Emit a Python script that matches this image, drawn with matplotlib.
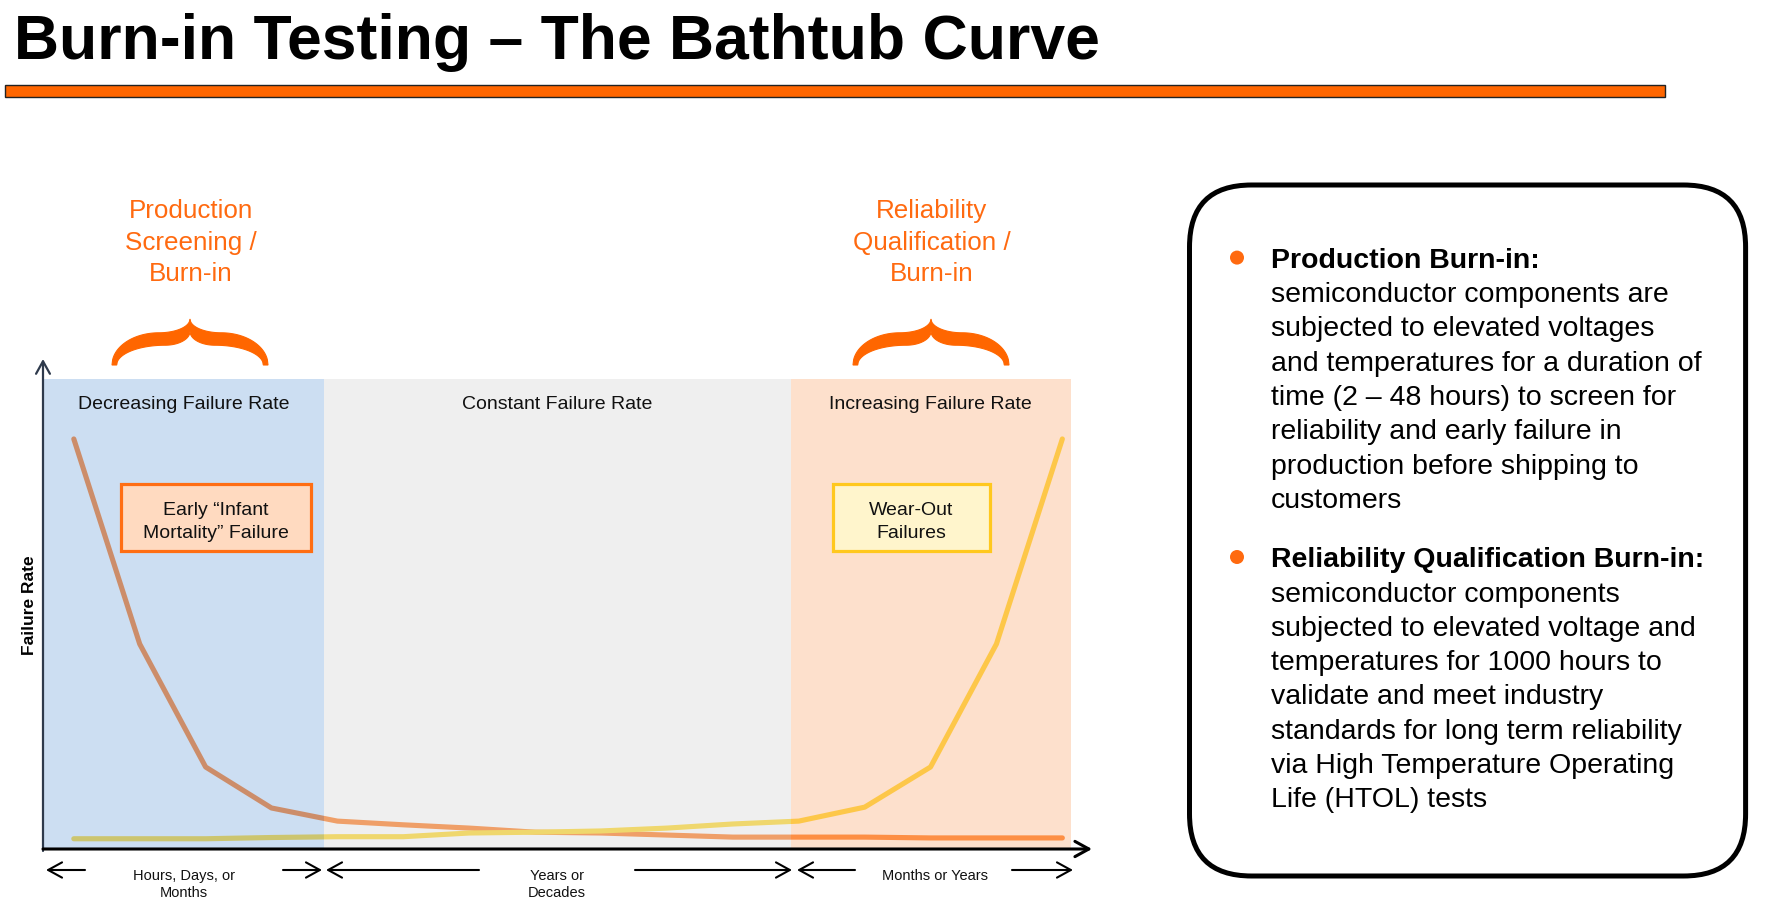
import numpy as np
import matplotlib
matplotlib.use('Agg')
import matplotlib.pyplot as plt
from matplotlib.patches import Rectangle, FancyBboxPatch, Polygon, Circle

plt.rcParams['font.family'] = ['Liberation Sans', 'DejaVu Sans']

# ---------------- data ----------------
time_index = list(range(16))
early_failure = [100, 50, 20, 10, 6.8, 5.9, 5.1, 4.1, 3.9, 3.4, 2.9, 2.9, 2.9, 2.7, 2.7, 2.7]
wearout_failure = [2.5, 2.5, 2.5, 2.8, 3.0, 3.0, 3.9, 4.1, 4.4, 5.1, 6.1, 6.8, 10.2, 20, 50, 100]
region_names = ['Decreasing Failure Rate', 'Constant Failure Rate', 'Increasing Failure Rate']
region_edges = [-0.467, 3.79, 10.88, 15.13]
period_labels = ['Hours, Days, or\nMonths', 'Years or\nDecades', 'Months or Years']
title = 'Burn-in Testing \u2013 The Bathtub Curve'
brace_labels = ['Production\nScreening /\nBurn-in', 'Reliability\nQualification /\nBurn-in']
box_labels = ['Early \u201cInfant\nMortality\u201d Failure', 'Wear-Out\nFailures']
y_label = 'Failure Rate'
bullet_heads = ['Production Burn-in:', 'Reliability Qualification Burn-in:']
bullet_bodies = [
    ['semiconductor components are', 'subjected to elevated voltages',
     'and temperatures for a duration of', 'time (2 \u2013 48 hours) to screen for',
     'reliability and early failure in', 'production before shipping to', 'customers'],
    ['semiconductor components', 'subjected to elevated voltage and',
     'temperatures for 1000 hours to', 'validate and meet industry',
     'standards for long term reliability', 'via High Temperature Operating',
     'Life (HTOL) tests'],
]

# ---------------- figure ----------------
W, H = 1780, 922
fig = plt.figure(figsize=(W / 100, H / 100), dpi=100, facecolor='white')

# chart axes (pixel extents of reference)
ax_l, ax_r, ax_b, ax_t = 43, 1092, 849, 359
ax = fig.add_axes([ax_l / W, (H - ax_b) / H, (ax_r - ax_l) / W, (ax_b - ax_t) / H])
ax.set_xlim(-0.4674, 15.45)
ax.set_ylim(0, 119.5)
ax.axis('off')

ax.plot(time_index, early_failure, color='#FF8028', lw=3.7, solid_capstyle='round',
        solid_joinstyle='round', zorder=2)
ax.plot(time_index, wearout_failure, color='#FFD830', lw=3.7, solid_capstyle='round',
        solid_joinstyle='round', zorder=2)

shade_top = 114.56
region_colors = ['#75A6DC', '#D6D6D6', '#FAAB75']
for i, name in enumerate(region_names):
    x0, x1 = region_edges[i], region_edges[i + 1]
    ax.add_patch(Rectangle((x0, 0), x1 - x0, shade_top, facecolor=region_colors[i],
                           edgecolor='none', alpha=0.37, zorder=3))
    ax.text((x0 + x1) / 2, 108.3, name, ha='center', va='center', fontsize=14,
            color='#111111', zorder=5)

# axis arrows
ax.annotate('', xy=(0, 1), xytext=(0, -0.004), xycoords='axes fraction',
            arrowprops=dict(arrowstyle='->,head_length=0.9,head_width=0.5', lw=1.6,
                            color='#2E3A4C', shrinkA=0, shrinkB=0, mutation_scale=10),
            annotation_clip=False, zorder=6)
ax.annotate('', xy=(1, 0), xytext=(0, 0), xycoords='axes fraction',
            arrowprops=dict(arrowstyle='->,head_length=1.0,head_width=0.55', lw=2.2,
                            color='black', shrinkA=0, shrinkB=0, mutation_scale=10),
            annotation_clip=False, zorder=6)

# ---------------- overlay in pixel coordinates ----------------
ov = fig.add_axes([0, 0, 1, 1])
ov.set_xlim(0, W)
ov.set_ylim(H, 0)
ov.axis('off')
ov.patch.set_alpha(0)

PX = 100 / 72.0


def put(x, yc, s, size, **kw):
    """place single-line text with its visual centre at yc"""
    ov.text(x, yc + 0.36 * size * PX, s, fontsize=size, va='baseline', **kw)


def put_lines(x, yc0, dy, text, size, **kw):
    for k, line in enumerate(text.split('\n')):
        put(x, yc0 + k * dy, line, size, **kw)


# title and orange rule
ov.text(14, 59, title, fontsize=45, fontweight='bold', ha='left', va='baseline', color='black')
ov.add_patch(Rectangle((5, 85), 1660, 12, facecolor='#FF6600', edgecolor='#222222', lw=1))


# braces
def brace(cx, ybot, bw=156, bh=46, color='#FF6600'):
    u = np.linspace(0, 0.5, 120)
    up = np.where(u <= 0.3,
                  0.70 * np.sqrt(np.clip(1 - (1 - u / 0.3) ** 2, 0, 1)),
                  0.70 + 0.30 * (1 - np.sqrt(np.clip(1 - ((u - 0.3) / 0.2) ** 2, 0, 1))))
    ul = np.linspace(0.03, 0.5, 120)
    lo = np.where(ul <= 0.34,
                  0.43 * np.sqrt(np.clip(1 - (1 - (ul - 0.03) / 0.31) ** 2, 0, 1)),
                  0.43 + 0.30 * (1 - np.sqrt(np.clip(1 - ((ul - 0.34) / 0.16) ** 2, 0, 1))))
    top_u = np.concatenate([u, 1 - u[::-1]])
    top_v = np.concatenate([up, up[::-1]])
    bot_u = np.concatenate([1 - ul, ul[::-1]])
    bot_v = np.concatenate([lo, lo[::-1]])
    uu = np.concatenate([top_u, bot_u])
    vv = np.concatenate([top_v, bot_v])
    pts = np.column_stack([cx - bw / 2 + uu * bw, ybot - vv * bh])
    ov.add_patch(Polygon(pts, closed=True, facecolor=color, edgecolor=color, lw=0.8))


brace(190, 365)
brace(931, 365)
put_lines(191, 209, 31.5, brace_labels[0], 18.7, ha='center', color='#FF6A10')
put_lines(932, 209, 31.5, brace_labels[1], 18.7, ha='center', color='#FF6A10')

# callout boxes
ov.add_patch(Rectangle((120.5, 484), 190.5, 67, facecolor='#FFDAC0', edgecolor='#FF6E14',
                       lw=2.3, zorder=4))
put_lines(216, 507.7, 23, box_labels[0], 14, ha='center', color='#111111', zorder=5)
ov.add_patch(Rectangle((832.5, 484), 157.5, 67, facecolor='#FFF5CC', edgecolor='#FFC81E',
                       lw=2.3, zorder=4))
put_lines(911, 507.7, 23, box_labels[1], 14, ha='center', color='#111111', zorder=5)

# y label
ov.text(30, 605, y_label, rotation=90, ha='center', va='center', fontsize=12.5,
        fontweight='bold', color='black')

# period arrows below the axis
arrow_kw = dict(arrowstyle='->,head_length=1.0,head_width=0.55', lw=1.5, color='black',
                shrinkA=0, shrinkB=0, mutation_scale=10)
arrow_pairs = [((46, 85), (283, 322)), ((326, 479), (635, 792)), ((797, 855), (1012, 1073))]
label_cx = [184, 557, 935]
ya = 870
for (lh, lt), (rt, rh) in arrow_pairs:
    ov.annotate('', xy=(lh, ya), xytext=(lt, ya), arrowprops=arrow_kw)
    ov.annotate('', xy=(rh, ya), xytext=(rt, ya), arrowprops=arrow_kw)
for cx, lab in zip(label_cx, period_labels):
    put_lines(cx, 875, 17, lab, 10.5, ha='center', color='#111111')

# right text box
ov.add_patch(FancyBboxPatch((1189.5, 185), 1745.6 - 1189.5, 876 - 185,
                            boxstyle='round,pad=0,rounding_size=62', facecolor='white',
                            edgecolor='black', lw=3.6))
para_y = [257.6, 557]
dy = 34.3
for py, head, body in zip(para_y, bullet_heads, bullet_bodies):
    ov.add_patch(Circle((1237, py), 7, facecolor='#FF6A10', edgecolor='none'))
    put(1271, py, head, 20.5, fontweight='bold', ha='left', color='black')
    for k, line in enumerate(body):
        put(1271, py + dy * (k + 1), line, 20.5, ha='left', color='black')

fig.savefig('out.png', dpi=100, facecolor='white')
